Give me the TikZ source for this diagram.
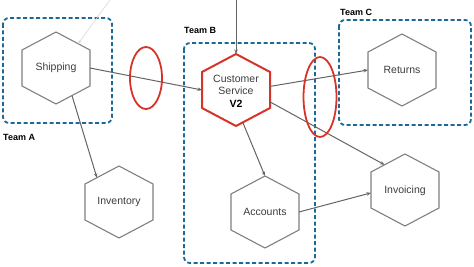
\documentclass[tikz,border=0pt]{standalone}
\usepackage{fontspec}
\setmainfont{Liberation Sans}
\usetikzlibrary{calc,arrows.meta}
\definecolor{teamblue}{RGB}{28,104,150}
\definecolor{ovalred}{RGB}{214,52,40}
\definecolor{hexgray}{RGB}{128,128,128}
\definecolor{linegray}{RGB}{100,100,100}
\definecolor{txtgray}{RGB}{60,60,60}
\tikzset{
 teambox/.style={draw=teamblue, line width=1.8pt, dash pattern=on 4pt off 2.5pt, rounded corners=6pt},
 teamlabel/.style={font=\bfseries\fontsize{9}{10}\selectfont, anchor=west, inner sep=0pt},
 hexline/.style={draw=hexgray, line width=1.1pt, line join=miter},
 hexred/.style={draw=ovalred, line width=2pt, line join=miter},
 hextext/.style={font=\fontsize{10.5}{12.5}\selectfont, text=txtgray, align=center, inner sep=0pt},
 conn/.style={draw=linegray, line width=1pt, -{Stealth[length=4.5pt,width=3.5pt]}},
 faint/.style={draw=black!15, line width=0.6pt, -{Stealth[length=4pt,width=3pt]}},
 oval/.style={draw=ovalred, line width=1.8pt},
}
\newcommand{\hexcoords}[3]{%
 \coordinate (#1-c) at (#2,#3);
 \coordinate (#1-n) at (#2,#3-36);
 \coordinate (#1-ne) at (#2+34,#3-18);
 \coordinate (#1-se) at (#2+34,#3+18);
 \coordinate (#1-s) at (#2,#3+36);
 \coordinate (#1-sw) at (#2-34,#3+18);
 \coordinate (#1-nw) at (#2-34,#3-18);
 \coordinate (#1-e) at (#2+34,#3);
 \coordinate (#1-w) at (#2-34,#3);
}
\newcommand{\hexdraw}[2]{\draw[#2] (#1-n) -- (#1-ne) -- (#1-se) -- (#1-s) -- (#1-sw) -- (#1-nw) -- cycle;}
\begin{document}
\begin{tikzpicture}[x=1pt,y=-1pt]
\useasboundingbox (0,0) rectangle (474,267);
% team boxes
\draw[teambox] (3,18) rectangle (112,123);
\draw[teambox] (184,43) rectangle (315,263);
\draw[teambox] (339,20) rectangle (471,125);
\node[teamlabel] (ta) at (3,137) {Team A};
\node[teamlabel] (tb) at (184,30) {Team B};
\node[teamlabel] (tc) at (340,12) {Team C};
% hexagon geometry
\hexcoords{ship}{56}{68}
\hexcoords{cs}{236}{90}
\hexcoords{ret}{402}{70}
\hexcoords{invo}{405}{190}
\hexcoords{acc}{265}{212}
\hexcoords{inv}{119}{202}
\hexdraw{ship}{hexline}
\hexdraw{ret}{hexline}
\hexdraw{invo}{hexline}
\hexdraw{acc}{hexline}
\hexdraw{inv}{hexline}
\hexdraw{cs}{hexred}
% labels
\node[hextext] (shipping) at (ship-c) {Shipping};
\node[hextext] (returns) at (ret-c) {Returns};
\node[hextext] (invoicing) at ($(invo-c)+(0,1)$) {Invoicing};
\node[hextext] (accounts) at (acc-c) {Accounts};
\node[hextext] (inventory) at (inv-c) {Inventory};
\node[hextext] (custserv) at ($(cs-c)+(0,1)$) {Customer\\Service\\\textcolor{black}{\bfseries V2}};
% free ends
\coordinate (topin) at (236,0);
\coordinate (faintin) at (110,0);
% connectors
\draw[faint] (faintin) -- ($(ship-n)!0.65!(ship-ne)$);
\draw[conn] (topin) -- (cs-n);
\draw[conn] (ship-e) -- (cs-w);
\draw[conn] ($(ship-se)!0.53!(ship-s)$) -- ($(inv-nw)!0.35!(inv-n)$);
\draw[conn] ($(cs-ne)!0.4!(cs-se)$) -- (ret-w);
\draw[conn] ($(cs-ne)!0.83!(cs-se)$) -- ($(invo-nw)!0.4!(invo-n)$);
\draw[conn] ($(cs-s)!0.2!(cs-se)$) -- (acc-n);
\draw[conn] (acc-e) -- ($(invo-nw)!0.58!(invo-sw)$);
% red ovals
\draw[oval] (146,78) ellipse [x radius=16, y radius=31];
\draw[oval] (320,97) ellipse [x radius=16.5, y radius=40];
\end{tikzpicture}
\end{document}
